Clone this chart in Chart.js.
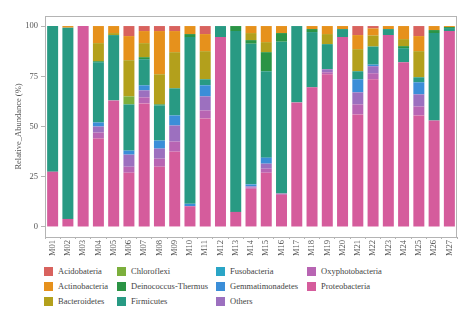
<!DOCTYPE html>
<html>
<head>
<meta charset="utf-8">
<script src="https://cdn.jsdelivr.net/npm/chart.js@4"></script>
<style>
  body { margin: 0; background: #fff; }
  #wrap { position: relative; width: 474px; height: 322px; }
  #box { position: absolute; left: 0; top: 0; width: 474px; height: 260px; }
  .item { position: absolute; font: 8.5px "Liberation Serif", serif; color: #444; white-space: nowrap; line-height: 10px; }
  .item span { position: absolute; left: 0; top: 0.5px; width: 9px; height: 9px; }
  .item b { font-weight: normal; position: absolute; left: 14px; top: 0; }
</style>
</head>
<body>
<div id="wrap">
  <div id="box"><canvas id="abundanceChart"></canvas></div>
  <div id="legend"></div>
</div>
<script>
const samples = ["M01","M02","M03","M04","M05","M06","M07","M08","M09","M10","M11","M12","M13","M14",
  "M15","M16","M17","M18","M19","M20","M21","M22","M23","M24","M25","M26","M27"];
const yTicks = [0, 25, 50, 75, 100];

// relative abundance (%) per sample
const proteobacteria   = [27.5, 4, 100, 44, 63, 27, 61.5, 30, 37.5, 10.3, 54, 94.5, 7.5, 19, 27, 16, 62, 69.5, 76, 94.5, 56, 73.5, 95.5, 82, 55.5, 53, 97.5];
const oxyphotobacteria = [0, 0, 0, 3, 0, 3, 3, 4, 5, 0, 4, 0, 0, 0.6, 2, 0.6, 0, 0, 1, 0, 5, 3, 0, 0, 4.5, 0, 0];
const others           = [0, 0, 0, 3, 0, 6, 3.5, 5, 8, 0, 7, 0, 0, 0.6, 2.5, 0, 0, 0, 1.5, 0, 6, 3.5, 0, 0, 6, 0, 0];
const gemmatimonadetes = [0, 0, 0, 2, 0, 2, 2.5, 4, 5, 1.2, 5.5, 0, 0, 1, 3, 0, 0, 0, 0, 0, 6.5, 0.8, 0, 0, 6, 0, 0];
const fusobacteria     = [0, 0, 0, 0, 0, 0, 0, 0, 0, 0, 0, 0, 0, 0, 0, 0, 0, 0, 0, 0, 0, 0, 0, 0, 0, 0, 0];
const firmicutes       = [72.5, 95.2, 0, 30, 32.5, 23, 13, 17.5, 13.5, 83, 3, 5.5, 90, 70, 43, 75.6, 38, 27.5, 12.5, 4, 4, 9, 3, 7, 2.5, 43.5, 1.5];
const deinococcus      = [0, 0, 0, 0.5, 0, 0, 1, 0.5, 0, 1.5, 0, 0, 2.5, 1.8, 9.5, 4.3, 0, 1.5, 0, 0, 0, 0, 0, 1, 0, 1.5, 0.5];
const chloroflexi      = [0, 0, 0, 0, 0, 4, 0, 0, 0, 0, 0, 0, 0, 0, 0, 0, 0, 0, 0, 0, 0, 0, 0, 0, 0, 0, 0];
const bacteroidetes    = [0, 0, 0, 9, 1, 18, 7, 15, 18, 0, 14, 0, 0, 3.5, 5, 0, 0, 0, 5, 0, 11, 5.5, 0, 3.5, 13, 0, 0];
const actinobacteria   = [0, 0.8, 0, 8.5, 3.5, 12, 6, 21.5, 10.5, 4, 8.5, 0, 0, 3.5, 8, 3.5, 0, 1.5, 4, 1.5, 7, 3.5, 1.5, 6.5, 7.5, 2, 0.5];
const acidobateria     = [0, 0, 0, 0, 0, 5, 2.5, 2.5, 2.5, 0, 4, 0, 0, 0, 0, 0, 0, 0, 0, 0, 4.5, 1.2, 0, 0, 5, 0, 0];

// bottom of the stack first
const series = [
  { label: "Proteobacteria", data: proteobacteria, color: "#d55c9c" },
  { label: "Oxyphotobacteria", data: oxyphotobacteria, color: "#b865b3" },
  { label: "Others", data: others, color: "#9c70bf" },
  { label: "Gemmatimonadetes", data: gemmatimonadetes, color: "#3b8ed8" },
  { label: "Fusobacteria", data: fusobacteria, color: "#2aa5c6" },
  { label: "Firmicutes", data: firmicutes, color: "#289a83" },
  { label: "Deinococcus-Thermus", data: deinococcus, color: "#2b9445" },
  { label: "Chloroflexi", data: chloroflexi, color: "#7caf3c" },
  { label: "Bacteroidetes", data: bacteroidetes, color: "#b3a01c" },
  { label: "Actinobacteria", data: actinobacteria, color: "#e6911c" },
  { label: "Acidobateria", data: acidobateria, color: "#d8625e" },
];

const font = { family: "'Liberation Serif', serif", size: 8.5 };

// frame round the plot area
const framePlugin = {
  id: "frame",
  afterDraw(chart) {
    const a = chart.chartArea;
    const c = chart.ctx;
    c.save();
    c.strokeStyle = "#b4b4b4";
    c.lineWidth = 1;
    c.strokeRect(a.left + 0.5, a.top + 0.5, a.right - a.left - 1, a.bottom - a.top);
    c.restore();
  },
};

new Chart(document.getElementById("abundanceChart"), {
  type: "bar",
  data: {
    labels: samples,
    datasets: series.map((s) => ({
      label: s.label,
      data: s.data,
      backgroundColor: s.color,
      borderWidth: 0,
      categoryPercentage: 1,
      barPercentage: 0.72,
    })),
  },
  options: {
    responsive: true,
    maintainAspectRatio: false,
    animation: false,
    layout: { padding: { top: 16, right: 17, left: 0, bottom: 0 } },
    plugins: { legend: { display: false }, tooltip: { enabled: false } },
    scales: {
      x: {
        stacked: true,
        grid: { drawOnChartArea: false, tickLength: 2, color: "#b4b4b4" },
        border: { color: "#b4b4b4" },
        ticks: { font: font, color: "#555", minRotation: 90, maxRotation: 90, padding: 1 },
        afterFit(scale) { scale.height = 23; },
      },
      y: {
        stacked: true,
        min: -5,
        max: 105,
        afterBuildTicks(scale) { scale.ticks = yTicks.map((v) => ({ value: v })); },
        grid: { drawOnChartArea: false, tickLength: 4, color: "#b4b4b4" },
        border: { color: "#b4b4b4" },
        ticks: { font: font, color: "#555", padding: 3 },
        title: { display: true, text: "Relative_Abundance (%)", font: font, color: "#555", padding: { top: 14, bottom: 0 } },
        afterFit(scale) { scale.width = 45; },
      },
    },
  },
  plugins: [framePlugin],
});

// legend: alphabetical, filled column by column
const legend = document.getElementById("legend");
const legendOrder = series.slice().reverse();
const colLeft = [44, 117, 216, 307];
const rowTop = [266, 281, 296];
legendOrder.forEach((s, i) => {
  const el = document.createElement("div");
  el.className = "item";
  el.style.left = colLeft[Math.floor(i / 3)] + "px";
  el.style.top = rowTop[i % 3] + "px";
  el.innerHTML = `<span style="background:${s.color}"></span><b>${s.label}</b>`;
  legend.appendChild(el);
});
</script>
</body>
</html>
